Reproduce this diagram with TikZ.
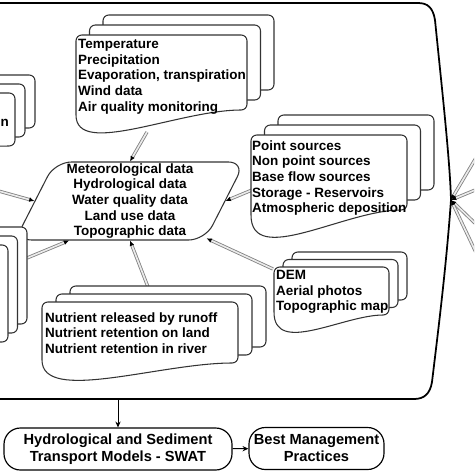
\documentclass[tikz,border=0pt]{standalone}
\usepackage{fontspec}
\setmainfont{Liberation Sans}
\usepackage{tikz}
\usetikzlibrary{positioning}
\usetikzlibrary{shapes.geometric,arrows.meta}

% stack of sheets with a wavy foot: left, top, right, left foot, right foot, wave control, layer shift x/y
\newcommand{\docstack}[8]{%
  \foreach \i in {2,1}{
    \draw[sheet] ({#1+\i*#7},{#2-\i*#8}) rectangle ({#3+\i*#7},{#5-\i*#8});
  }
  \draw[sheet] (#1,#4) -- (#1,#2) -- (#3,#2) -- (#3,#5)
    .. controls ({#1+0.6*(#3-#1)},#5) and (#1,#6) .. (#1,#4);
}

\begin{document}
\begin{tikzpicture}[
  x=0.03cm, y=-0.03cm,
  sheet/.style={draw=black!80, line width=0.9pt, fill=white, rounded corners=5pt},
  feed/.style={draw=black!50, double=black!8, double distance=1.4pt, line width=0.7pt,
    -{Latex[length=4.5pt,width=4pt,black]}},
  link/.style={draw=black, line width=0.8pt, -{Stealth[length=5pt,width=4.5pt]}},
  txt/.style={align=left, inner sep=0pt, anchor=north west,
    font=\fontsize{11.5}{13.4}\selectfont\bfseries},
  model/.style={draw, line width=1pt, rounded corners=14pt, align=center,
    minimum height=1.26cm, font=\fontsize{12.5}{14.5}\selectfont\bfseries}
]
\useasboundingbox (0,0) rectangle (474,474);
\clip (0,0) rectangle (474,474);

% outer frame
\draw[line width=1.5pt] (-10,3) -- (418,3) .. controls (428,3) and (433,8) .. (435,20)
  .. controls (441,80) and (450,160) .. (451,200)
  .. controls (446,270) and (437,340) .. (432,382)
  .. controls (430,394) and (424,399) .. (414,399) -- (-10,399);

\node[trapezium, trapezium left angle=66, trapezium right angle=114, trapezium stretches=true,
  draw=black!80, line width=0.9pt, rounded corners=14pt, fill=white,
  minimum width=6.9cm, minimum height=2.34cm, inner sep=0pt, align=center,
  font=\fontsize{11.5}{13.4}\selectfont\bfseries] (data) at (130,201)
  {Meteorological data\\Hydrological data\\Water quality data\\Land use data\\Topographic data};

\coordinate (clim-out) at (147,132);
\coordinate (side-in) at (-5,190);
\coordinate (lower-out) at (27,258);
\coordinate (nut-out) at (148,287);
\coordinate (gis-out) at (273,269);
\coordinate (src-out) at (252,190);
\coordinate (hub) at (451,200);
\coordinate (frame-out) at (118,399);

\draw[feed] (clim-out) -- (data.north);
\draw[feed] (side-in) -- (data.west);
\draw[feed] (lower-out) -- (data.213);
\draw[feed] (nut-out) -- (data.south);
\draw[feed] (gis-out) -- (data.334);
\draw[feed] (src-out) -- (data.east);
\foreach \y in {151,188,228,261}
  \draw[feed] (480,\y) -- (hub);

\docstack{-150}{93}{15}{140}{146}{170}{10}{9}
\docstack{-150}{245}{8}{330}{342}{360}{9.5}{9}
\docstack{76}{35}{247}{115}{110}{158}{13.5}{10}
\docstack{251}{135}{407}{215}{210}{268}{13.5}{10}
\docstack{274}{267}{389}{312}{315}{356}{9}{7.5}
\docstack{42}{302}{238}{360}{363}{404}{14}{8}

\node[txt, anchor=west] (edge) at (0.5,123) {n};
\node[txt] (clim) at (78,39) {Temperature\\Precipitation\\Evaporation, transpiration\\Wind data\\Air quality monitoring};
\node[txt] (src) at (252,140) {Point sources\\Non point sources\\Base flow sources\\Storage - Reservoirs\\Atmospheric deposition};
\node[txt] (gis) at (276,270) {DEM\\Aerial photos\\Topographic map};
\node[txt] (nut) at (45,312) {Nutrient released by runoff\\Nutrient retention on land\\Nutrient retention in river};

\node[model, minimum width=6.84cm] (swat) at (118,449) {Hydrological and Sediment\\Transport Models - SWAT};
\node[model, minimum width=4.05cm] (bmp) at (316.5,448.5) {Best Management\\Practices};

\draw[link] (frame-out) -- (swat);
\draw[link] (swat) -- (bmp);

\end{tikzpicture}
\end{document}
